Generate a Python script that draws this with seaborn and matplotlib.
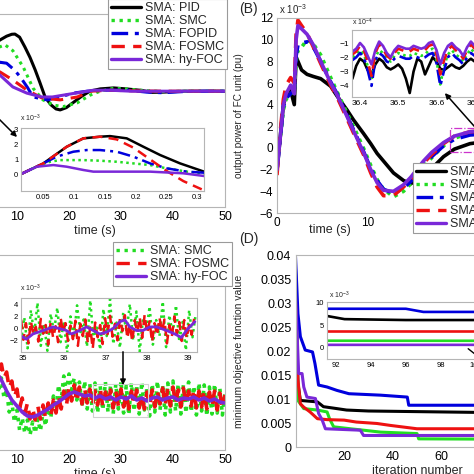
import numpy as np
import matplotlib
matplotlib.use('Agg')
import matplotlib.pyplot as plt
from matplotlib.patches import Rectangle
import seaborn as sns

W = H = 474

# ---------------- data ----------------
names = ['SMA: PID', 'SMA: SMC', 'SMA: FOPID', 'SMA: FOSMC', 'SMA: hy-FOC']
colors = ['#000000', '#22dd22', '#0000dd', '#ee1111', '#7a28d8']
styles = ['-', (0, (1, 1.4)), (0, (5, 2, 1.2, 2)), (0, (4, 2.5)), '-']

# (A) main response
a_pid_t = [0, 2, 4, 6, 6.7, 8, 9, 9.6, 10.5, 11.5, 12.5, 13.5, 14.4, 15.4, 16.5, 17.5, 18.3, 19.5,
           21, 22.5, 24, 26, 28.6, 31, 34, 36, 38, 42, 46, 50]
a_pid_v = [0, 1.0, 2.0, 2.5, 2.65, 2.85, 2.95, 2.96, 2.8, 2.3, 1.75, 1.1, 0.45, -0.3, -0.7, -0.92,
           -0.97, -0.85, -0.55, -0.25, 0.0, 0.12, 0.17, 0.12, 0.04, -0.06, -0.05, 0, 0, 0]
a_smc_t = [0, 2, 4, 6, 6.7, 7.7, 9.2, 11.2, 13.1, 15, 17, 18.9, 21.6, 24.1, 26, 28.6, 31, 33.8, 38, 42, 46, 50]
a_smc_v = [0, 0.8, 1.6, 2.2, 2.3, 2.4, 2.1, 1.25, 0.15, -0.45, -0.72, -0.8, -0.6, -0.2, 0.0, 0.15,
           0.12, 0.05, -0.02, 0, 0, 0]
a_fopid_t = [0, 2, 4, 6, 6.7, 8, 9.5, 10.6, 12, 13.1, 15.8, 18.3, 20.8, 23.5, 27, 31, 35, 38, 42, 46, 50]
a_fopid_v = [0, 0.5, 1.0, 1.4, 1.5, 1.45, 1.1, 0.75, 0.2, -0.3, -0.45, -0.3, -0.1, 0.0, 0.05, 0.06,
             -0.05, -0.08, -0.02, 0, 0]
a_fosmc_t = [0, 2, 4, 6, 6.7, 9.2, 11.9, 14.8, 18.3, 21.6, 24.1, 28, 32, 38, 50]
a_fosmc_v = [0, 0.4, 0.75, 0.95, 1.0, 0.58, 0.06, -0.35, -0.45, -0.3, 0.0, 0.05, 0.02, 0, 0]
a_hy_t = [0, 2, 4, 6, 6.7, 9.2, 11.9, 14.8, 16.8, 20.8, 24.7, 28, 32, 50]
a_hy_v = [0, 0.3, 0.6, 0.8, 0.84, 0.22, -0.1, -0.3, -0.3, -0.12, 0.05, 0.05, 0.0, 0]

# (A) inset, x 10^-3
ai_pid_x = [0.014, 0.0503, 0.0882, 0.1152, 0.1423, 0.1585, 0.1856, 0.2126, 0.2397, 0.2722, 0.3111]
ai_pid_v = [0, 0.71, 1.82, 2.38, 2.49, 2.53, 2.38, 1.82, 1.27, 0.71, 0.16]
ai_fosmc_x = [0.014, 0.0503, 0.0882, 0.1152, 0.1423, 0.1693, 0.1964, 0.2234, 0.2505, 0.2775, 0.3073]
ai_fosmc_v = [0, 0.71, 1.82, 2.38, 2.49, 2.31, 1.76, 0.98, 0.2, -0.47, -1.02]
ai_fopid_x = [0.014, 0.0503, 0.0719, 0.099, 0.1206, 0.1423, 0.1693, 0.1964, 0.2234, 0.2505, 0.2830, 0.3111]
ai_fopid_v = [0, 0.71, 1.16, 1.49, 1.6, 1.6, 1.49, 1.16, 0.71, 0.38, 0.16, 0.09]
ai_smc_x = [0.014, 0.0395, 0.0611, 0.0774, 0.1152, 0.1423, 0.1693, 0.1964, 0.2234, 0.2505, 0.2830, 0.3111]
ai_smc_v = [0, 0.49, 0.82, 0.93, 0.93, 0.89, 0.82, 0.71, 0.6, 0.38, 0.16, 0.04]
ai_hy_x = [0.014, 0.0395, 0.0665, 0.0882, 0.1152, 0.1314, 0.1693, 0.2234, 0.2775, 0.3111]
ai_hy_v = [0, 0.49, 0.6, 0.49, 0.27, 0.16, 0.16, 0.16, 0.05, -0.13]

# (B) FC unit output power, x 10^-3
b_t = [0, 0.3, 0.7, 1.0, 1.5, 1.9, 2.1, 2.3, 2.7, 3.3, 4, 4.8, 5.9, 6.6, 7.7, 8.4, 9.5, 10.3, 11,
       11.7, 12.8, 13.9, 14.7, 16.1, 17, 18.3, 19.5, 21.2, 23, 25]
b_pid = [-2.0, 0.5, 4.0, 4.8, 5.3, 4.0, 8.4, 8.0, 7.2, 6.8, 6.6, 6.4, 5.7, 4.8, 3.5, 2.6, 1.35, 0.4,
         -0.5, -1.2, -2.3, -3.0, -3.3, -2.6, -1.9, -0.8, -0.1, 0.4, 0.6, 0.5]
b_smc = [-2.0, 0.3, 3.5, 4.5, 5.0, 5.2, 8.0, 9.0, 9.3, 10.0, 9.6, 8.6, 6.5, 5.2, 3.2, 2.0, 0.0, -1.6,
         -2.9, -3.8, -4.5, -4.0, -3.3, -1.8, -0.9, 0.2, 0.9, 1.4, 1.5, 1.2]
b_fopid = [-2.0, 0.4, 3.8, 4.6, 5.0, 5.4, 8.5, 9.5, 9.7, 9.8, 9.3, 8.0, 6.1, 5.0, 3.0, 1.7, -0.3, -1.9,
           -3.0, -3.8, -4.2, -3.7, -3.1, -1.6, -0.8, 0.2, 0.8, 1.2, 1.3, 1.1]
b_fosmc = [-2.5, 1.0, 4.5, 5.8, 6.5, 6.0, 10.5, 11.8, 11.3, 10.6, 9.3, 7.8, 5.8, 4.7, 2.7, 1.4, -0.6,
           -2.3, -3.6, -4.4, -4.4, -3.6, -2.9, -1.4, -0.6, 0.4, 1.1, 1.5, 1.6, 1.2]
b_hy = [-2.0, 0.5, 4.0, 5.0, 5.8, 5.0, 10.0, 11.3, 11.0, 10.5, 9.5, 8.0, 6.0, 4.9, 2.9, 1.6, -0.4,
        -2.0, -3.2, -3.9, -4.0, -3.4, -2.7, -1.2, -0.4, 0.5, 1.1, 1.5, 1.6, 1.3]
b_xticklabels = ['0', '10', '', '', '', '']  # the rest sit under the legend

# (B) inset, x 10^-4, t = 36.38 ... 36.70
bi_t = np.round(np.arange(36.38, 36.705, 0.01), 2)
bi_pid = [-3.5, -2.6, -2.1, -2.3, -2.9, -3.2, -2.5, -2.1, -2.3, -2.7, -2.85, -2.7, -2.5, -2.8, -3.5,
          -4.5, -3.0, -2.1, -2.3, -3.2, -2.6, -2.0, -2.3, -2.8, -2.9, -2.7, -2.5, -2.7, -2.8, -2.6,
          -2.3, -2.1, -2.3]
bi_smc = [-2.0, -1.8, -1.5, -1.8, -2.6, -3.6, -2.0, -1.5, -1.7, -2.1, -2.3, -1.9, -1.7, -1.8, -1.9,
          -1.9, -1.7, -1.8, -1.9, -1.8, -1.5, -1.4, -2.2, -3.9, -2.6, -1.8, -1.5, -1.8, -2.0, -2.3,
          -1.8, -1.4, -1.7]
bi_fopid = [-2.2, -2.0, -1.7, -2.0, -2.9, -4.0, -2.2, -1.7, -1.9, -2.3, -2.4, -2.1, -1.9, -2.0, -2.1,
            -2.1, -1.9, -2.0, -2.1, -2.0, -1.8, -1.7, -2.4, -4.0, -2.9, -2.0, -1.7, -2.0, -2.2, -2.5,
            -2.0, -1.7, -1.9]
bi_fosmc = [-1.8, -1.6, -1.2, -1.5, -2.3, -3.3, -1.7, -1.1, -1.4, -1.9, -2.1, -1.7, -1.4, -1.5, -1.6,
            -1.6, -1.4, -1.5, -1.6, -1.5, -1.2, -1.1, -1.8, -3.2, -2.2, -1.5, -1.2, -1.5, -1.7, -2.1,
            -1.5, -1.1, -1.4]
bi_hy = [-1.6, -1.4, -1.0, -1.3, -1.9, -2.5, -1.5, -0.9, -1.2, -1.7, -2.0, -1.5, -1.2, -1.3, -1.4,
         -1.4, -1.2, -1.3, -1.4, -1.3, -1.0, -0.9, -1.5, -2.5, -1.7, -1.2, -1.0, -1.3, -1.5, -1.9,
         -1.3, -0.9, -1.2]

# (C) main response, sampled every 0.5 s from 4 s
c_t = np.arange(4, 50.25, 0.5)
c_fosmc = [5.3, 4.4, 5.0, 3.8, 4.3, 2.9, 3.6, 2.2, 2.8, 1.2, 1.9, 0.3, 1.1, -0.8, 0.2, -1.4, -0.3,
           -1.9, -0.8, -2.0, -0.6, -1.9, -0.5, -1.8, -0.3, -1.6, 0.0, -1.3, 0.4, -0.9, 0.9, -0.6,
           1.4, -0.1, 1.5, -0.2, 1.3, -0.4, 1.2, -0.3, 1.1, -0.6, 0.9, -0.5, 1.2, -0.7, 0.8, -0.4,
           1.0, -0.8, 0.9, -0.6, 1.1, -0.7, 0.7, -0.9, 0.9, -0.5, 1.0, -0.8, 0.6, -0.9, 0.8, -0.6,
           1.0, -0.7, 0.9, -0.4, 1.2, -0.5, 1.1, -0.6, 1.3, -0.4, 1.0, -0.7, 1.2, -0.5, 0.9, -0.6,
           1.1, -0.8, 0.9, -0.7, 1.0, -0.9, 0.8, -0.6, 0.9, -1.0, 0.7, -0.8, 0.5]
c_smc = [3.6, 2.2, 3.4, 1.8, 2.9, 1.0, 2.2, 0.2, 1.0, -1.2, -0.2, -2.2, -1.0, -3.0, -1.8, -3.3, -2.0,
         -3.5, -2.2, -3.3, -1.9, -3.1, -1.2, -2.6, -0.4, -1.8, 0.4, -0.9, 1.5, 0.0, 2.4, 0.8, 2.6,
         1.0, 2.2, 0.0, 1.8, -0.6, 1.9, -0.9, 1.6, -1.1, 1.7, -1.3, 1.4, -1.0, 1.8, -1.2, 1.5, -1.4,
         1.6, -0.9, 1.9, -1.3, 1.4, -1.5, 1.7, -1.1, 1.5, -1.4, 1.8, -1.0, 1.3, -1.6, 1.6, -1.2, 1.9,
         -1.0, 1.5, -1.5, 1.7, -1.2, 1.9, -1.1, 1.6, -1.4, 1.5, -1.3, 1.8, -1.2, 1.4, -1.5, 1.7, -1.1,
         1.5, -1.6, 1.3, -1.4, 1.6, -1.3, 1.2, -1.5, 0.8]
c_hy_t = np.arange(4, 51, 1)
c_hy = [4.2, 3.5, 2.8, 2.0, 0.9, 0.0, -0.6, -1.2, -1.6, -1.7, -1.5, -1.2, -0.9, -0.5, -0.2, 0.2, 0.6,
        0.8, 0.6, 0.4, 0.5, 0.2, 0.4, 0.1, 0.3, 0.0, 0.3, 0.1, 0.4, 0.0, 0.2, -0.1, 0.2, 0.3, 0.0,
        0.2, 0.3, 0.0, 0.2, 0.1, 0.3, 0.0, 0.2, -0.1, 0.1, -0.2, -0.3]

# (C) inset, x 10^-3
ci_fosmc_t = np.arange(34.95, 39.2, 0.06)
ci_fosmc = [1.5, -1.8, 0.9, -2.4, 1.2, -1.0, 0.3, -2.1, 1.6, -0.8, 0.6, -2.6, 1.1, -1.5, 0.4, -2.2,
            1.8, -0.6, 0.9, -2.0, 0.5, -1.7, 1.3, -2.8, 0.8, -1.2, 1.5, -2.3, 0.2, -3.3, 1.0, -1.4,
            0.6, -2.5, 1.7, -0.9, 2.1, -1.3, 0.8, -1.9, 1.6, -0.4, 2.2, -1.6, 0.7, -2.1, 1.4, -0.7,
            1.9, -1.5, 2.3, -0.8, 1.2, -2.2, 0.9, -1.1, 1.8, -0.5, 1.5, -2.4, 0.6, -1.3, 2.0, -0.9,
            1.1, -2.0, 1.4, -1.6, 0.8, -1.0, 1.6]
ci_smc_t = np.arange(34.95, 39.25, 0.08)
ci_smc = [-2.0, 1.8, -3.2, 3.0, -1.0, 4.2, -2.8, 0.8, -3.6, 2.4, -0.5, 3.4, -2.2, 1.2, -3.9, 2.0,
          -1.5, 3.8, -0.8, 1.5, -2.9, 4.6, -1.8, 0.6, -3.4, 3.2, -1.2, 4.8, -2.5, 1.0, -3.1, 2.6,
          -0.6, 4.0, -1.9, 2.8, -3.7, 1.6, -0.4, 3.6, -2.6, 1.4, -1.2, 4.4, -3.0, 2.2, -0.9, 3.8,
          -2.1, 1.1, -3.5, 3.0, -1.4, 2.4]
ci_hy_t = [34.94, 35.08, 35.24, 35.49, 35.73, 35.89, 36.05, 36.17, 36.38, 36.54, 36.70, 36.86, 37.02,
           37.18, 37.35, 37.47, 37.59, 37.75, 37.91, 38.07, 38.24, 38.48, 38.68, 38.84, 39.00, 39.17]
ci_hy = [-1.14, -1.71, -0.86, -0.29, 0.29, 0, -0.29, -0.86, -0.29, 0.29, -0.29, -0.86, -0.57, 0,
         1.14, 1.43, 0.29, -0.29, -0.29, 0.29, 0.29, -0.29, -0.86, -1.43, 0, 1.14]

# (D) convergence of the objective function
d_pid_i = [0, 1, 2, 9, 11.5, 17, 21, 30, 91.5, 92.5, 96, 100]
d_pid_v = [0.037, 0.0132, 0.0097, 0.0094, 0.0084, 0.008, 0.0077, 0.0075, 0.0071, 0.0064, 0.0062, 0.0062]
d_smc_i = [0, 1, 3.4, 9, 13, 14, 15.7, 22.6, 28, 35, 50, 50.7, 100]
d_smc_v = [0.036, 0.0097, 0.008, 0.0077, 0.0073, 0.0059, 0.0042, 0.0038, 0.0035, 0.0031, 0.0028, 0.0017, 0.0016]
d_fopid_i = [0, 1, 2, 4, 7, 8, 9.5, 13, 17, 22, 35, 46, 46.6, 96, 97, 100]
d_fopid_v = [0.0397, 0.0278, 0.023, 0.0202, 0.0198, 0.0174, 0.0129, 0.0125, 0.0118, 0.0111, 0.0108,
             0.0104, 0.0087, 0.0087, 0.008, 0.008]
d_fosmc_i = [0, 1, 2, 3.4, 6, 9, 13, 20, 25, 33.5, 39, 50, 100]
d_fosmc_v = [0.03, 0.014, 0.009, 0.0083, 0.0073, 0.0059, 0.0057, 0.0056, 0.0052, 0.0049, 0.0045, 0.0038, 0.0038]
d_hy_i = [0, 1.3, 2.7, 3.4, 4.7, 8.2, 9.5, 11, 12.3, 26.7, 28, 78, 79, 100]
d_hy_v = [0.032, 0.0153, 0.0153, 0.0125, 0.0104, 0.0101, 0.007, 0.0056, 0.0038, 0.0035, 0.0024,
          0.0024, 0.0007, 0.0007]
d_yticks = [0, 0.005, 0.01, 0.015, 0.02, 0.025, 0.03, 0.035, 0.04]
d_ylabels = ['0', '0.005', '0.01', '0.015', '0.02', '0.025', '0.03', '0.035', '0.04']

# ---------------- styling ----------------
sns.set_style('white')
plt.rcParams['font.family'] = ['Liberation Sans', 'DejaVu Sans']
plt.rcParams['mathtext.fontset'] = 'custom'
plt.rcParams['mathtext.rm'] = 'Liberation Sans'
FRAME = '#b5b5b5'

fig = plt.figure(figsize=(4.74, 4.74), dpi=100)


def px_axes(x0, y0, x1, y1):
    # axes placed by pixel box (top-left origin)
    return fig.add_axes([x0 / W, 1 - y1 / H, (x1 - x0) / W, (y1 - y0) / H])


def fpt(x, y):
    return (x / W, 1 - y / H)


def frame(ax, fs):
    for s in ax.spines.values():
        s.set_color(FRAME)
        s.set_linewidth(0.8)
    ax.tick_params(direction='in', length=2.5, width=0.6, color=FRAME, labelsize=fs,
                   labelcolor='black', pad=3)
    ax.set_facecolor('white')


def draw(ax, x, y, i, lw):
    sns.lineplot(x=x, y=y, ax=ax, color=colors[i], linestyle=styles[i], lw=lw,
                 label=names[i], legend=False, sort=False)


def legend(ax, idx, anchor, loc):
    handles = [plt.Line2D([], [], color=colors[i], linestyle=styles[i], lw=2.4) for i in idx]
    lg = ax.legend(handles, [names[i] for i in idx], loc=loc, bbox_to_anchor=fpt(*anchor),
                   bbox_transform=fig.transFigure, fontsize=9, handlelength=2.4,
                   handletextpad=0.3, labelspacing=0.08, borderpad=0.25, borderaxespad=0,
                   frameon=True, fancybox=False, framealpha=1)
    lg.get_frame().set_edgecolor('#9a9a9a')
    lg.get_frame().set_linewidth(0.8)


def arrow(ax, tail, head):
    ax.annotate('', xy=fpt(*head), xytext=fpt(*tail), xycoords='figure fraction',
                textcoords='figure fraction', annotation_clip=False,
                arrowprops=dict(arrowstyle='-|>', color='black', lw=1.1, mutation_scale=8))


# ---------- (A) ----------
axA = px_axes(-35, 14, 225, 207)
frame(axA, 9)
for i, (t, v) in enumerate([(a_pid_t, a_pid_v), (a_smc_t, a_smc_v), (a_fopid_t, a_fopid_v),
                            (a_fosmc_t, a_fosmc_v), (a_hy_t, a_hy_v)]):
    draw(axA, t, v, i, 2.2)
axA.set_xlim(0, 50)
axA.set_ylim(-6, 4)
axA.set_xticks(range(0, 51, 10))
axA.set_yticks([])
axA.set_xlabel('time (s)', fontsize=9, labelpad=1)
legend(axA, range(5), (227, -1), 'upper right')

axAi = px_axes(21, 128, 204, 191)
frame(axAi, 5.5)
for i, (x, v) in enumerate([(ai_pid_x, ai_pid_v), (ai_smc_x, ai_smc_v), (ai_fopid_x, ai_fopid_v),
                            (ai_fosmc_x, ai_fosmc_v), (ai_hy_x, ai_hy_v)]):
    draw(axAi, x, v, i, 1.8)
axAi.set_xlim(0.014, 0.311)
axAi.set_ylim(-1.13, 3.07)
axAi.set_xticks([0.05, 0.1, 0.15, 0.2, 0.25, 0.3])
axAi.set_xticklabels(['0.05', '0.1', '0.15', '0.2', '0.25', '0.3'])
axAi.set_yticks([0, 1, 2, 3])
axAi.tick_params(pad=2)
fig.text(*fpt(20, 124), r'x 10$^{-3}$', fontsize=5, va='bottom')
arrow(axAi, (-8, 112), (19, 139))

# ---------- (B) ----------
axB = px_axes(277, 18, 732, 213)
frame(axB, 8.5)
for i, v in enumerate([b_pid, b_smc, b_fopid, b_fosmc, b_hy]):
    draw(axB, b_t, v, i, 2.6)
axB.add_patch(Rectangle((19.0, -0.4), 6, 2.25, fill=False, ec='#cc33cc', ls='-.', lw=0.9, zorder=5))
axB.set_xlim(0, 50)
axB.set_ylim(-6, 12)
axB.set_xticks(range(0, 51, 10))
axB.set_xticklabels(b_xticklabels)
axB.set_yticks(range(-6, 13, 2))
axB.set_xlabel('time (s)', fontsize=9)
axB.xaxis.set_label_coords(0.117, -0.055)
axB.set_ylabel('output power of FC unit (pu)', fontsize=7.2)
axB.yaxis.set_label_coords(-0.073, 0.5)
legend(axB, range(5), (413, 163), 'upper left')
fig.text(*fpt(279, 9), r'x 10$^{-3}$', fontsize=7, va='center')
fig.text(*fpt(239, 9), '(B)', fontsize=10, va='center')

axBi = px_axes(352, 30, 490, 97)
frame(axBi, 6)
for i, v in enumerate([bi_pid, bi_smc, bi_fopid, bi_fosmc, bi_hy]):
    draw(axBi, bi_t, v, i, 1.9)
axBi.set_xlim(36.379, 36.74)
axBi.set_ylim(-4.78, -0.09)
axBi.set_xticks([36.4, 36.5, 36.6, 36.7])
axBi.set_yticks([-4, -3, -2, -1])
axBi.tick_params(pad=2)
fig.text(*fpt(352, 22), r'x 10$^{-4}$', fontsize=5, va='center')
arrow(axBi, (482, 135), (443, 91))

# ---------- (C) ----------
axC = px_axes(-35, 255, 225, 450)
frame(axC, 9)
draw(axC, c_t, c_smc, 1, 2.6)
draw(axC, c_t, c_fosmc, 3, 2.6)
draw(axC, c_hy_t, c_hy, 4, 2.6)
axC.add_patch(Rectangle((24.7, -1.7), 10.4, 3.3, fill=False, ec='#d0d0d0', lw=0.8, zorder=5))
axC.set_xlim(0, 50)
axC.set_ylim(-5, 14.5)
axC.set_xticks(range(0, 51, 10))
axC.set_yticks([])
axC.set_xlabel('time (s)', fontsize=9, labelpad=1)
legend(axC, [1, 3, 4], (232, 242), 'upper right')

axCi = px_axes(21, 298, 197, 352)
frame(axCi, 5.5)
draw(axCi, ci_smc_t, ci_smc, 1, 1.8)
draw(axCi, ci_fosmc_t, ci_fosmc, 3, 1.8)
draw(axCi, ci_hy_t, ci_hy, 4, 2.0)
axCi.set_xlim(34.95, 39.22)
axCi.set_ylim(-3.8, 5)
axCi.set_xticks([35, 36, 37, 38, 39])
axCi.set_yticks([-2, 0, 2, 4])
axCi.tick_params(pad=2)
fig.text(*fpt(20, 288), r'x 10$^{-3}$', fontsize=5, va='center')
arrow(axCi, (123, 349), (123, 388))

# ---------- (D) ----------
axD = px_axes(295.5, 255, 538.5, 447)
frame(axD, 9)
for i, (it, v) in enumerate([(d_pid_i, d_pid_v), (d_smc_i, d_smc_v), (d_fopid_i, d_fopid_v),
                             (d_fosmc_i, d_fosmc_v), (d_hy_i, d_hy_v)]):
    sns.lineplot(x=it, y=v, ax=axD, color=colors[i], lw=2.2, sort=False)
axD.set_xlim(0, 100)
axD.set_ylim(0, 0.04)
axD.set_xticks(range(20, 101, 20))
axD.set_yticks(d_yticks)
axD.set_yticklabels(d_ylabels)
axD.set_xlabel('iteration number', fontsize=9, labelpad=1)
axD.set_ylabel('minimum objective function value', fontsize=7.5)
axD.yaxis.set_label_coords(-0.212, 0.5)
fig.text(*fpt(239, 239), '(D)', fontsize=10, va='center')

axDi = px_axes(327, 302, 490, 359)
frame(axDi, 5.5)
for i, (it, v) in enumerate([(d_pid_i, d_pid_v), (d_smc_i, d_smc_v), (d_fopid_i, d_fopid_v),
                             (d_fosmc_i, d_fosmc_v), (d_hy_i, d_hy_v)]):
    sns.lineplot(x=it, y=np.array(v) * 1000, ax=axDi, color=colors[i], lw=1.9, sort=False)
axDi.set_xlim(91.5, 100.8)
axDi.set_ylim(-2.44, 10.2)
axDi.set_xticks([92, 94, 96, 98, 100])
axDi.set_yticks([0, 5, 10])
axDi.tick_params(pad=2)
fig.text(*fpt(329, 295), r'x 10$^{-3}$', fontsize=5, va='center')
axDi.annotate('', xy=fpt(485, 362), xytext=fpt(466, 347), xycoords='figure fraction',
              textcoords='figure fraction', annotation_clip=False,
              arrowprops=dict(arrowstyle='-', color='black', lw=1.0))

fig.savefig('out.png', dpi=100)
